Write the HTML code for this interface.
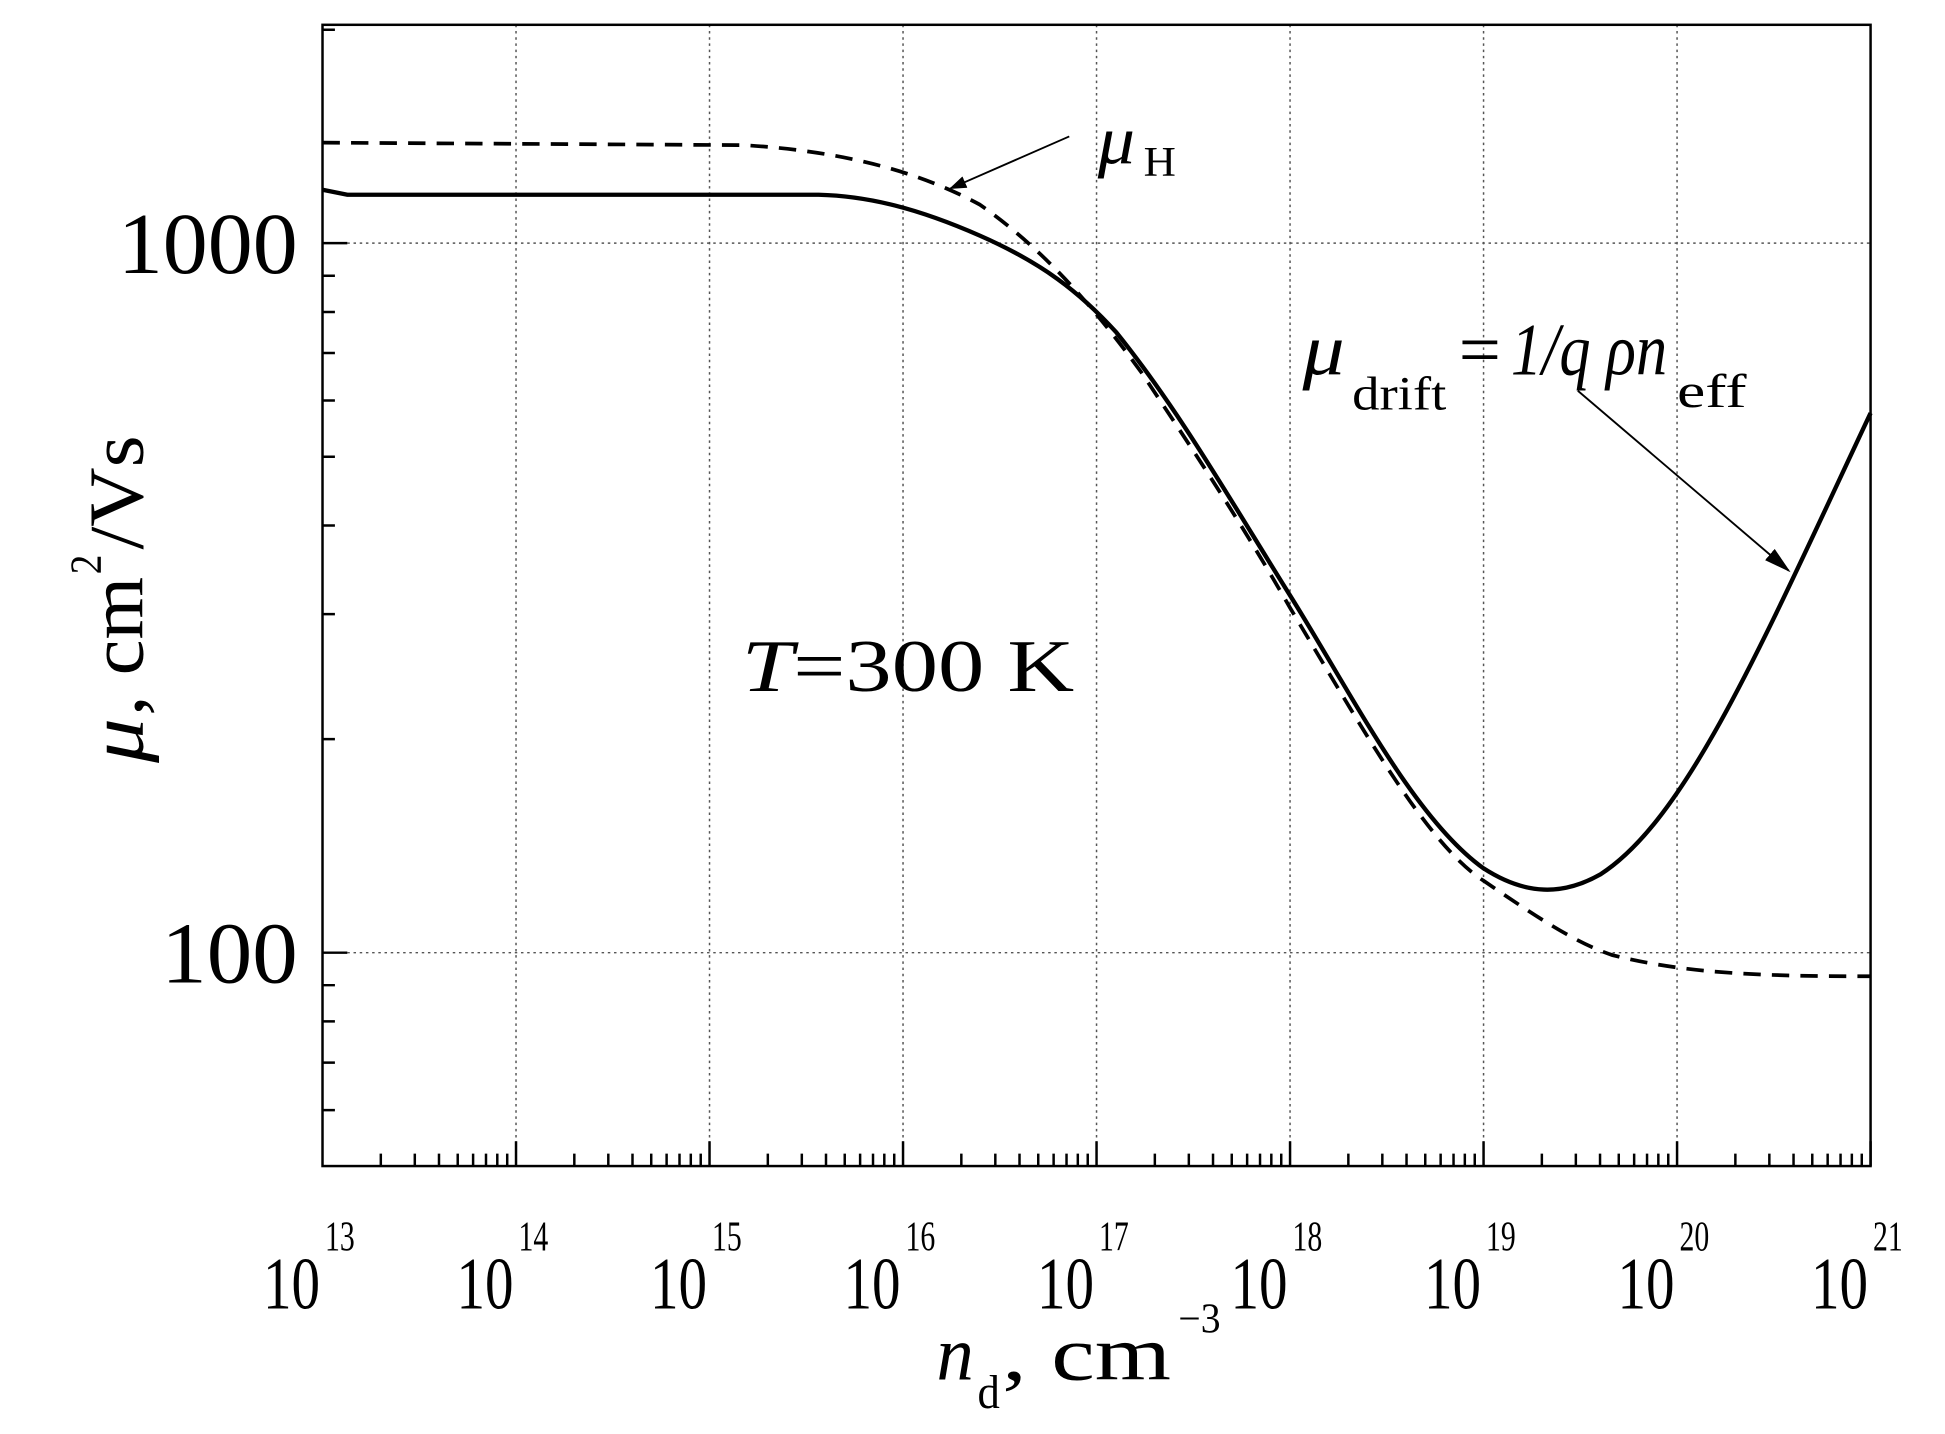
<!DOCTYPE html><html><head><style>body{margin:0;background:#fff}svg{display:block}</style></head><body>
<svg width="1945" height="1434" viewBox="0 0 1568 1156" preserveAspectRatio="none" xmlns="http://www.w3.org/2000/svg" font-family="Liberation Serif, serif">
<defs><marker id="ah" markerWidth="14" markerHeight="10" refX="13" refY="5" orient="auto" markerUnits="userSpaceOnUse"><path d="M0,0 L14,5 L0,10 z" fill="#000"/></marker>
<marker id="ah2" markerWidth="22" markerHeight="12" refX="20" refY="6" orient="auto" markerUnits="userSpaceOnUse"><path d="M0,0 L22,6 L0,12 z" fill="#000"/></marker>
<path id="dec" d="M47,940v-10M74.4,940v-10M93.9,940v-10M109,940v-10M121.4,940v-10M131.8,940v-10M140.9,940v-10M148.9,940v-10M156,940v-20" stroke="#000" stroke-width="2" fill="none"/></defs>
<g stroke="#555" stroke-width="1.2" stroke-dasharray="2,3">
<line x1="416" y1="20" x2="416" y2="940"/><line x1="572" y1="20" x2="572" y2="940"/><line x1="728" y1="20" x2="728" y2="940"/><line x1="884" y1="20" x2="884" y2="940"/><line x1="1040" y1="20" x2="1040" y2="940"/><line x1="1196" y1="20" x2="1196" y2="940"/><line x1="1352" y1="20" x2="1352" y2="940"/>
<line x1="260" y1="196" x2="1508" y2="196"/><line x1="260" y1="768" x2="1508" y2="768"/>
</g>
<rect x="260" y="20" width="1248" height="920" fill="none" stroke="#000" stroke-width="2"/>
<use href="#dec" x="260"/><use href="#dec" x="416"/><use href="#dec" x="572"/><use href="#dec" x="728"/><use href="#dec" x="884"/><use href="#dec" x="1040"/><use href="#dec" x="1196"/><use href="#dec" x="1352"/>
<path d="M260,894.9h10M260,856.6h10M260,823.4h10M260,794.2h10M260,768h20M260,595.8h10M260,495.1h10M260,423.6h10M260,368.2h10M260,322.9h10M260,284.6h10M260,251.5h10M260,222.3h10M260,196h20M260,24h10" stroke="#000" stroke-width="2"/>
<path d="M260,153 L280,157 L660,157 C700,158 740,168 790,190 C840,212 870,235 900,268 C950,330 990,400 1040,480 C1090,560 1140,660 1196,700 C1230,722 1260,722 1290,705 C1360,660 1420,520 1508,333" fill="none" stroke="#000" stroke-width="3.5"/>
<path d="M260,115 L600,117 C680,122 740,138 790,165 C840,200 880,245 920,300 C960,360 1000,420 1040,490 C1100,590 1150,680 1196,710 C1240,740 1270,760 1300,770 C1360,785 1420,787 1508,787" fill="none" stroke="#000" stroke-width="3" stroke-dasharray="14,9"/>
<line x1="862" y1="110" x2="766" y2="152" stroke="#000" stroke-width="1.5" marker-end="url(#ah)"/>
<line x1="1272" y1="315" x2="1442" y2="460" stroke="#000" stroke-width="1.5" marker-end="url(#ah2)"/>
<text x="885" y="132" font-size="56" font-style="italic" textLength="30" lengthAdjust="spacingAndGlyphs">μ</text><text x="922" y="142" font-size="34" textLength="26" lengthAdjust="spacingAndGlyphs">H</text>
<text x="1050" y="302" font-size="60" font-style="italic" textLength="34" lengthAdjust="spacingAndGlyphs">μ</text>
<text x="1090" y="330" font-size="38" textLength="76" lengthAdjust="spacingAndGlyphs">drift</text>
<text x="1176" y="302" font-size="60" textLength="34" lengthAdjust="spacingAndGlyphs">=</text>
<text x="1218" y="302" font-size="60" font-style="italic" textLength="126" lengthAdjust="spacingAndGlyphs">1/q ρn</text>
<text x="1352" y="328" font-size="38" textLength="56" lengthAdjust="spacingAndGlyphs">eff</text>
<text x="598" y="557" font-size="60" textLength="268" lengthAdjust="spacingAndGlyphs"><tspan font-style="italic">T</tspan>=300 K</text>
<text x="95" y="220" font-size="70" textLength="145" lengthAdjust="spacingAndGlyphs">1000</text>
<text x="130" y="792" font-size="70" textLength="110" lengthAdjust="spacingAndGlyphs">100</text>
<g font-size="60">
<text x="212" y="1055" textLength="46" lengthAdjust="spacingAndGlyphs">10</text><text x="262" y="1008" font-size="34" textLength="24" lengthAdjust="spacingAndGlyphs">13</text>
<text x="368" y="1055" textLength="46" lengthAdjust="spacingAndGlyphs">10</text><text x="418" y="1008" font-size="34" textLength="24" lengthAdjust="spacingAndGlyphs">14</text>
<text x="524" y="1055" textLength="46" lengthAdjust="spacingAndGlyphs">10</text><text x="574" y="1008" font-size="34" textLength="24" lengthAdjust="spacingAndGlyphs">15</text>
<text x="680" y="1055" textLength="46" lengthAdjust="spacingAndGlyphs">10</text><text x="730" y="1008" font-size="34" textLength="24" lengthAdjust="spacingAndGlyphs">16</text>
<text x="836" y="1055" textLength="46" lengthAdjust="spacingAndGlyphs">10</text><text x="886" y="1008" font-size="34" textLength="24" lengthAdjust="spacingAndGlyphs">17</text>
<text x="992" y="1055" textLength="46" lengthAdjust="spacingAndGlyphs">10</text><text x="1042" y="1008" font-size="34" textLength="24" lengthAdjust="spacingAndGlyphs">18</text>
<text x="1148" y="1055" textLength="46" lengthAdjust="spacingAndGlyphs">10</text><text x="1198" y="1008" font-size="34" textLength="24" lengthAdjust="spacingAndGlyphs">19</text>
<text x="1304" y="1055" textLength="46" lengthAdjust="spacingAndGlyphs">10</text><text x="1354" y="1008" font-size="34" textLength="24" lengthAdjust="spacingAndGlyphs">20</text>
<text x="1460" y="1055" textLength="46" lengthAdjust="spacingAndGlyphs">10</text><text x="1510" y="1008" font-size="34" textLength="24" lengthAdjust="spacingAndGlyphs">21</text>
</g>
<text x="755" y="1112" font-size="62" font-style="italic" textLength="30" lengthAdjust="spacingAndGlyphs">n</text>
<text x="788" y="1135" font-size="38" textLength="18" lengthAdjust="spacingAndGlyphs">d</text>
<text x="808" y="1112" font-size="62" textLength="136" lengthAdjust="spacingAndGlyphs">, cm</text>
<text x="950" y="1074" font-size="34" textLength="34" lengthAdjust="spacingAndGlyphs">−3</text>
<g transform="translate(115,615) rotate(-90)">
<text x="0" y="0" font-size="62" font-style="italic" textLength="36" lengthAdjust="spacingAndGlyphs">μ</text>
<text x="38" y="0" font-size="62" textLength="112" lengthAdjust="spacingAndGlyphs">, cm</text>
<text x="152" y="-34" font-size="36" textLength="16" lengthAdjust="spacingAndGlyphs">2</text>
<text x="172" y="0" font-size="62" textLength="92" lengthAdjust="spacingAndGlyphs">/Vs</text>
</g>
</svg>
</body></html>
